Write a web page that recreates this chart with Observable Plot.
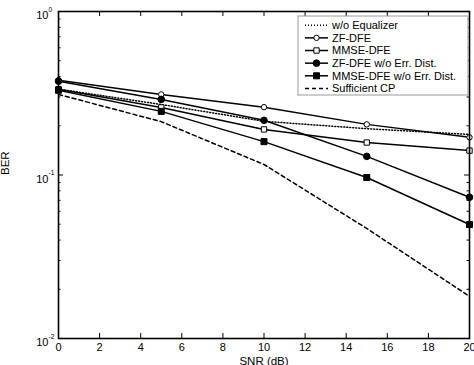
<!DOCTYPE html>
<html><head><meta charset="utf-8">
<script src="https://cdn.jsdelivr.net/npm/d3@7"></script>
<script src="https://cdn.jsdelivr.net/npm/@observablehq/plot@0.6"></script>
<style>body{margin:0;background:#fff} svg{display:block}</style>
</head><body><div id="chart"></div>
<script>
const snr = [0, 5, 10, 15, 20];
const berNoEq      = [0.335, 0.270, 0.213, 0.192, 0.177];
const berZF        = [0.380, 0.311, 0.260, 0.204, 0.170];
const berMMSE      = [0.335, 0.259, 0.190, 0.158, 0.141];
const berZFnoErr   = [0.375, 0.290, 0.216, 0.130, 0.0731];
const berMMSEnoErr = [0.330, 0.245, 0.160, 0.0965, 0.0498];
const berCP        = [0.311, 0.212, 0.116, 0.0471, 0.0181];
const seriesNames = ["w/o Equalizer", "ZF-DFE", "MMSE-DFE", "ZF-DFE w/o Err. Dist.", "MMSE-DFE w/o Err. Dist.", "Sufficient CP"];
const xTicks = [0, 2, 4, 6, 8, 10, 12, 14, 16, 18, 20];
const yMajor = [1, 0.1, 0.01];
const yExp = ["0", "-1", "-2"];
const yMinor = [0.2,0.3,0.4,0.5,0.6,0.7,0.8,0.9,0.02,0.03,0.04,0.05,0.06,0.07,0.08,0.09];
const xLabel = "SNR (dB)";
const yLabel = "BER";

const W = 474, H = 365, mL = 58, mR = 5, mT = 11, mB = 27;
const pw = W - mL - mR, ph = H - mT - mB;
const font = "'Liberation Sans', Arial, Helvetica, sans-serif";

const styles = [
  {vals: berNoEq, dash: "1,2", sym: null},
  {vals: berZF, dash: null, sym: "circle", fill: "white", r: 2.7},
  {vals: berMMSE, dash: null, sym: "square", fill: "white", r: 3.0},
  {vals: berZFnoErr, dash: null, sym: "circle", fill: "black", r: 3.3},
  {vals: berMMSEnoErr, dash: null, sym: "square", fill: "black", r: 3.4},
  {vals: berCP, dash: "4,3", sym: null}
];

const rows = [];
styles.forEach((s, k) => snr.forEach((x, i) => rows.push({series: seriesNames[k], k, snr: x, ber: s.vals[i]})));

const marks = [];
styles.forEach((s, k) => {
  const data = rows.filter(d => d.k === k);
  marks.push(Plot.line(data, {x: "snr", y: "ber", stroke: "black", strokeWidth: 1.5, strokeDasharray: s.dash}));
});
styles.forEach((s, k) => {
  if (!s.sym) return;
  const data = rows.filter(d => d.k === k);
  marks.push(Plot.dot(data, {x: "snr", y: "ber", symbol: s.sym, r: s.r, fill: s.fill, stroke: "black", strokeWidth: 1}));
});

const chart = Plot.plot({
  width: W, height: H,
  marginLeft: mL, marginRight: mR, marginTop: mT, marginBottom: mB,
  style: {fontFamily: font, fontSize: "11px", background: "white", overflow: "visible"},
  x: {domain: [0, 20], axis: null},
  y: {type: "log", domain: [0.01, 1], axis: null},
  marks: [
    ...marks,
    Plot.tickX(xTicks, {x: d => d, insetTop: ph - 5, stroke: "black", strokeWidth: 1}),
    Plot.tickX(xTicks, {x: d => d, insetBottom: ph - 5, stroke: "black", strokeWidth: 1}),
    Plot.tickY(yMajor, {y: d => d, insetRight: pw - 5, stroke: "black", strokeWidth: 1}),
    Plot.tickY(yMajor, {y: d => d, insetLeft: pw - 5, stroke: "black", strokeWidth: 1}),
    Plot.tickY(yMinor, {y: d => d, insetRight: pw - 2.5, stroke: "black", strokeWidth: 1}),
    Plot.tickY(yMinor, {y: d => d, insetLeft: pw - 2.5, stroke: "black", strokeWidth: 1}),
    Plot.frame({stroke: "black", strokeWidth: 1.6}),
    Plot.text(xTicks, {x: d => d, frameAnchor: "bottom", lineAnchor: "top", dy: 5, text: d => String(d), fill: "black", fontSize: 11}),
    Plot.text(yMajor, {y: d => d, frameAnchor: "left", dx: -10, textAnchor: "end", lineAnchor: "top", text: () => "10", fill: "black", fontSize: 11}),
    Plot.text(yMajor, {y: d => d, frameAnchor: "left", dx: -10, dy: 0, textAnchor: "start", lineAnchor: "bottom", text: (d, i) => yExp[i], fill: "black", fontSize: 6.5}),
    Plot.text([xLabel], {frameAnchor: "bottom", lineAnchor: "bottom", dy: 26, text: d => d, fill: "black", fontSize: 11.5}),
    Plot.text([yLabel], {frameAnchor: "left", rotate: -90, dx: -53, lineAnchor: "middle", text: d => d, fill: "black", fontSize: 11.5})
  ]
});

// legend
const svg = d3.select(chart);
const lg = svg.append("g").attr("font-family", font).attr("font-size", 11).attr("text-anchor", "start");
const bx = 298, by = 16, bw = 170, bh = 79, rowH = 12.65, y0 = 25.2;
lg.append("rect").attr("x", bx).attr("y", by).attr("width", bw).attr("height", bh)
  .attr("fill", "white").attr("stroke", "#999").attr("stroke-width", 1);
styles.forEach((s, k) => {
  const y = y0 + k * rowH;
  lg.append("line").attr("x1", 305).attr("x2", 328).attr("y1", y).attr("y2", y)
    .attr("stroke", "black").attr("stroke-width", 1.5).attr("stroke-dasharray", s.dash);
  if (s.sym) {
    const t = s.sym === "circle" ? d3.symbolCircle : d3.symbolSquare;
    lg.append("path").attr("d", d3.symbol(t, Math.PI * s.r * s.r)())
      .attr("transform", `translate(316.5,${y})`)
      .attr("fill", s.fill).attr("stroke", "black").attr("stroke-width", 1);
  }
  lg.append("text").attr("x", 332).attr("y", y).attr("dy", "0.35em")
    .attr("text-anchor", "start").attr("fill", "black").text(seriesNames[k]);
});

document.getElementById("chart").appendChild(chart);
</script>
</body></html>
